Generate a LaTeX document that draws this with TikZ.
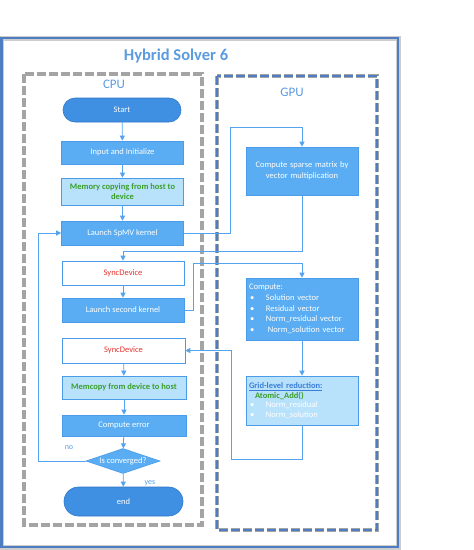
\documentclass[tikz,border=0pt]{standalone}
\usepackage{fontspec}
\setmainfont{Carlito}
\usetikzlibrary{arrows.meta,shapes.geometric,shapes.misc}
\definecolor{boxblue}{HTML}{5AADF2}
\definecolor{darkblue}{HTML}{3F8FE2}
\definecolor{darkedge}{HTML}{2F78C8}
\definecolor{edgeblue}{HTML}{4A9BE8}
\definecolor{lightfill}{HTML}{B8E2FB}
\definecolor{lineblue}{HTML}{55A3EE}
\definecolor{framegray}{HTML}{A4A4A4}
\definecolor{frameblue}{HTML}{4E7DC2}
\definecolor{titleblue}{HTML}{5B9BE0}
\definecolor{greentext}{HTML}{3A9E2A}
\definecolor{redtext}{HTML}{E5322E}
\definecolor{gridtitle}{HTML}{3B7ED8}
\begin{document}
\begin{tikzpicture}[x=1pt,y=-1pt,
  font=\fontsize{8.5}{10.6}\selectfont,
  box/.style={rectangle, draw=edgeblue, line width=0.6pt, minimum width=122pt,
    minimum height=24pt, inner sep=2pt, text=white, align=center, fill=boxblue},
  lightbox/.style={box, fill=lightfill, text=greentext, font=\fontsize{8.5}{10.6}\selectfont\bfseries},
  syncbox/.style={box, fill=white, text=redtext},
  term/.style={rounded rectangle, draw=darkedge, line width=0.6pt, fill=darkblue,
    minimum width=122pt, minimum height=24pt, inner sep=2pt, text=white},
  gpubox/.style={box, minimum width=112pt, text width=106pt, inner sep=3pt},
  conn/.style={draw=lineblue, line width=0.8pt},
  arr/.style={conn, -{Triangle[length=5pt,width=5pt]}},
  framelabel/.style={text=titleblue, font=\fontsize{13}{15}\selectfont},
  small/.style={text=lineblue, font=\fontsize{8}{9}\selectfont},
  dashframe/.style={line width=4.5pt, dash pattern=on 9pt off 3pt}
]
\useasboundingbox (0,0) rectangle (474,550);
\fill[white] (0,0) rectangle (474,550);

% outer frame
\draw[framegray!55, line width=5pt] (1.5,38) rectangle (398,547);
\draw[frameblue, line width=2.4pt] (1.5,38) rectangle (398,547);
\node[text=titleblue, font=\fontsize{16.5}{18}\selectfont\bfseries] (title) at (176,56) {Hybrid Solver 6};

% CPU frame
\draw[framegray, dashframe] (24,74) rectangle (202,525);
\node[framelabel] (cpu) at (114,84) {CPU};

% GPU frame
\draw[framegray, dashframe] (217,76) rectangle (377,530);
\draw[frameblue, dashframe, line width=1.8pt] (217,76) rectangle (377,530);
\node[framelabel] (gpu) at (292,92) {GPU};

% CPU nodes
\node[term] (start) at (122,110) {Start};
\node[box, minimum height=23pt] (input) at (122.5,152.5) {Input and Initialize};
\node[lightbox, minimum height=27pt] (mem1) at (122.5,191.5) {Memory copying from host to\\device};
\node[box] (launch) at (122.5,233) {Launch SpMV kernel};
\node[syncbox] (sync1) at (123,273) {SyncDevice};
\node[box] (launch2) at (123,310) {Launch second kernel};
\node[syncbox, minimum width=123pt, minimum height=25pt] (sync2) at (123.5,350.5) {SyncDevice};
\node[lightbox, minimum width=124pt, minimum height=23pt] (mem2) at (124,387.5) {Memcopy from device to host};
\node[box, minimum width=124pt, minimum height=21pt] (err) at (124,425.5) {Compute error};
\node[diamond, draw=edgeblue, line width=0.6pt, fill=boxblue, text=white, aspect=3,
  inner sep=0pt, minimum width=74pt, minimum height=25pt] (conv) at (123,461) {Is converged?};
\node[term, minimum width=123pt, minimum height=29pt] (end) at (123.5,501.5) {end};

% GPU nodes
\node[gpubox, minimum height=48pt, align=center] (sparse) at (302,171)
  {Compute sparse matrix by\\vector multiplication};
\node[gpubox, minimum height=62pt, align=left] (compute) at (302,309)
  {Compute:\\
   \hspace*{1pt}\makebox[16pt][l]{\textbullet}Solution vector\\
   \hspace*{1pt}\makebox[16pt][l]{\textbullet}Residual vector\\
   \hspace*{1pt}\makebox[16pt][l]{\textbullet}Norm\_residual vector\\
   \hspace*{1pt}\makebox[18pt][l]{\textbullet}Norm\_solution vector};
\node[gpubox, fill=lightfill, minimum height=49pt, align=left] (grid) at (302,400.5)
  {\textcolor{gridtitle}{\bfseries\underline{Grid-level reduction:}}\\[-1pt]
   \hspace*{6pt}\textcolor{greentext}{\bfseries Atomic\_Add()}\\[-1pt]
   \hspace*{1pt}\makebox[16pt][l]{\textbullet}Norm\_residual\\[-1pt]
   \hspace*{1pt}\makebox[16pt][l]{\textbullet}Norm\_solution};

% labels
\node[small] (no) at (69,448) {no};
\node[small] (yes) at (150,483) {yes};

% corner coordinates
\coordinate (c1) at (230,127);
\coordinate (c2) at (302,251);
\coordinate (c3) at (193,263);
\coordinate (c4) at (231,459);
\coordinate (c5) at (38,461);

% connectors
\draw[arr] (start) -- (input);
\draw[arr] (input) -- (mem1);
\draw[arr] (mem1) -- (launch);
\draw[arr] (launch.east) -| (c1) -| (sparse.north);
\draw[arr] (sparse.south) -- (c2) -| (sync1.north);
\draw[arr] (sync1) -- (launch2);
\draw[arr] (launch2.east) -| (c3) -| (compute.north);
\draw[arr] (compute) -- (grid);
\draw[arr] (grid.south) |- (c4) |- (sync2.east);
\draw[arr] (sync2) -- (mem2);
\draw[arr] (mem2) -- (err);
\draw[arr] (err) -- (conv);
\draw[arr] (conv) -- (end);
\draw[arr] (conv.west) -- (c5) |- (launch.west);
\end{tikzpicture}
\end{document}
